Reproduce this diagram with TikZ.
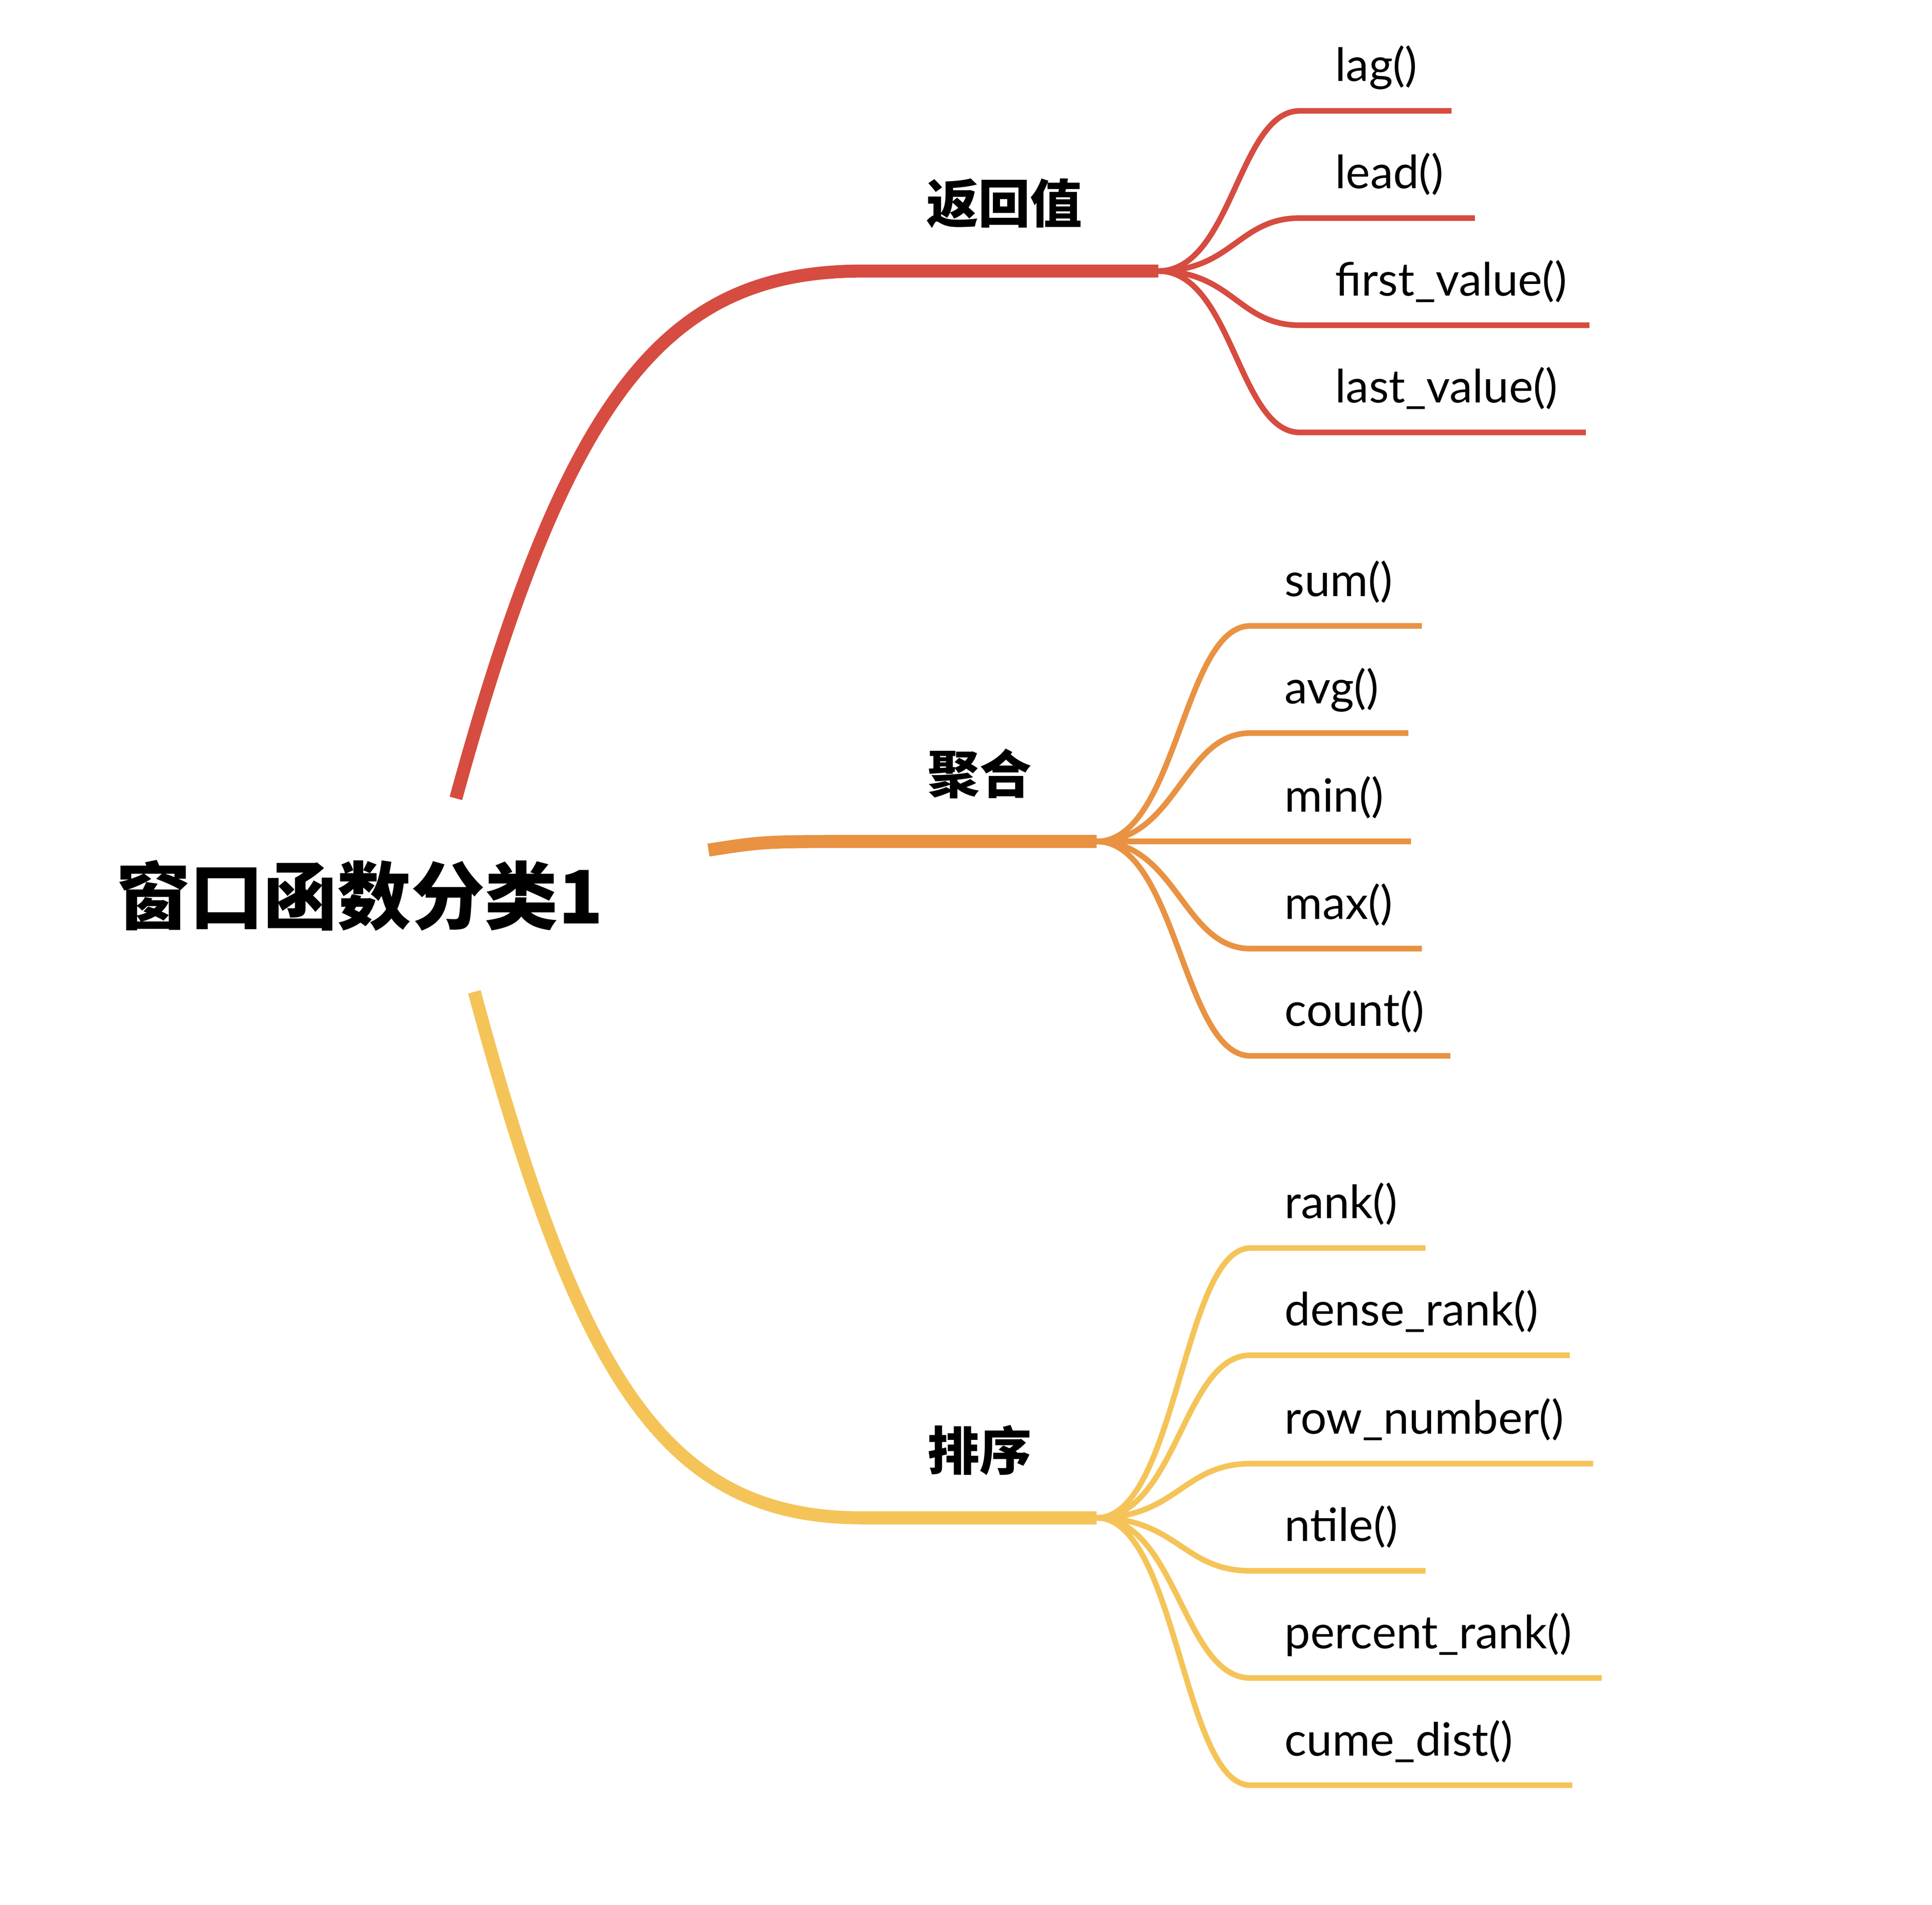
\documentclass[tikz,border=0pt]{standalone}
\usepackage{fontspec}
\setmainfont{Lato}
\newfontfamily\cjk{Noto Sans CJK SC}
\definecolor{redbr}{RGB}{214,76,64}
\definecolor{orangebr}{RGB}{232,146,66}
\definecolor{yellowbr}{RGB}{245,196,88}
\begin{document}
\begin{tikzpicture}[x=0.01cm,y=-0.01cm,
    trunk/.style={line width=3pt},
    twig/.style={line width=1.3pt},
    leaf/.style={anchor=base west,font=\fontsize{10.6}{12}\selectfont,inner sep=0pt},
    topic/.style={font=\cjk\bfseries\fontsize{12}{14}\selectfont,inner sep=0pt}]
  \useasboundingbox (0,0) rectangle (1568,1546);
  % root
  \node[fill=white,rounded corners=6pt,
    font=\cjk\bfseries\fontsize{17}{20}\selectfont] (root) at (292,727) {窗口函数分类1};
  \coordinate (rtop) at (370,648);
  \coordinate (rright) at (575,690);
  \coordinate (rbot) at (385,805);
  % main branches
  \coordinate (ret) at (940,220);
  \coordinate (agg) at (890,683);
  \coordinate (ord) at (890,1232);
  \draw[trunk,redbr] (rtop) .. controls (460,320) and (540,220) .. (700,220) -- (ret);
  \draw[trunk,orangebr] (rright) .. controls (620,683) .. (700,683) -- (agg);
  \draw[trunk,yellowbr] (rbot) .. controls (470,1120) and (540,1232) .. (700,1232) -- (ord);
  \node[topic] (retlbl) at (815,165) {返回值};
  \node[topic] (agglbl) at (795,628) {聚合};
  \node[topic] (ordlbl) at (795,1177) {排序};
  % leaves
  \foreach \y/\xe/\t [count=\i] in {90/1178/lag(),177/1197/lead(),264/1290/first\_value(),351/1287/last\_value()}{
    \coordinate (r\i) at (1055,\y);
    \coordinate (re\i) at (\xe,\y);
    \draw[twig,redbr] (ret) .. controls (1000,220) and (1005,\y) .. (r\i) -- (re\i);
    \node[leaf] (rt\i) at (1083,\y-24) {\t};
  }
  \foreach \y/\xe/\t [count=\i] in {508/1154/sum(),595/1143/avg(),683/1145/min(),770/1154/max(),857/1177/count()}{
    \coordinate (a\i) at (1015,\y);
    \coordinate (ae\i) at (\xe,\y);
    \draw[twig,orangebr] (agg) .. controls (955,683) and (960,\y) .. (a\i) -- (ae\i);
    \node[leaf] (at\i) at (1042,\y-24) {\t};
  }
  \foreach \y/\xe/\t [count=\i] in {1013/1157/rank(),1100/1274/dense\_rank(),1188/1293/row\_number(),1275/1157/ntile(),1362/1300/percent\_rank(),1449/1276/cume\_dist()}{
    \coordinate (o\i) at (1015,\y);
    \coordinate (oe\i) at (\xe,\y);
    \draw[twig,yellowbr] (ord) .. controls (955,1232) and (960,\y) .. (o\i) -- (oe\i);
    \node[leaf] (ot\i) at (1042,\y-24) {\t};
  }
\end{tikzpicture}
\end{document}
